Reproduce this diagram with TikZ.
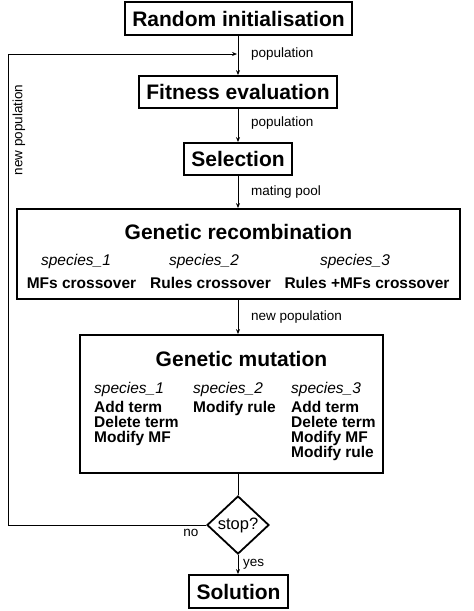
\documentclass[tikz,border=0pt]{standalone}
\usepackage{fontspec}
\setmainfont{Liberation Sans}
\usetikzlibrary{arrows.meta,positioning,shapes.geometric}

\begin{document}
\begin{tikzpicture}[x=1pt,y=-1pt,
  stage/.style={draw,line width=1.8pt,inner sep=0pt,
    font=\fontsize{21}{24}\bfseries\selectfont},
  panel/.style={draw,line width=1.8pt,inner sep=0pt},
  panelhead/.style={font=\fontsize{21}{24}\bfseries\selectfont},
  species/.style={font=\fontsize{15.5}{17}\itshape\selectfont},
  oper/.style={font=\fontsize{15.5}{15}\bfseries\selectfont,align=left,inner sep=0pt},
  decision/.style={diamond,draw,line width=1.8pt,minimum width=62pt,minimum height=58pt,
    inner sep=0pt,font=\fontsize{16.5}{18}\selectfont},
  lbl/.style={font=\fontsize{13.5}{15}\selectfont,inner sep=0pt},
  flow/.style={-{Stealth[length=5pt,width=4pt]},line width=0.7pt}]
\useasboundingbox (0,0) rectangle (474,611);

\node[stage,minimum width=227pt,minimum height=33pt] (init) at (238.5,18.5) {Random initialisation};
\node[stage,minimum width=198pt,minimum height=32pt] (fitness) at (238,92) {Fitness evaluation};
\node[stage,minimum width=108pt,minimum height=32pt] (select) at (238,159) {Selection};

% recombination panel
\node[panel,minimum width=443pt,minimum height=90pt] (recomb) at (238.5,254) {};
\node[panelhead] (recombtitle) at (238.5,232) {Genetic recombination};
\node[species] (rsp1) at (76,261) {species\_1};
\node[species] (rsp2) at (204,261) {species\_2};
\node[species] (rsp3) at (355,261) {species\_3};
\node[oper] (rop1) at (81.5,283) {MFs crossover};
\node[oper] (rop2) at (210.5,283) {Rules crossover};
\node[oper] (rop3) at (367,283) {Rules +MFs crossover};

% mutation panel
\node[panel,minimum width=303pt,minimum height=138pt] (mutate) at (231.5,404) {};
\node[panelhead] (mutatetitle) at (241.5,359) {Genetic mutation};
\node[species,anchor=west,inner sep=0pt] (msp1) at (94,389) {species\_1};
\node[species,anchor=west,inner sep=0pt] (msp2) at (193,389) {species\_2};
\node[species,anchor=west,inner sep=0pt] (msp3) at (291,389) {species\_3};
\node[oper,anchor=north west] (mop1) at (94,401) {Add term\\Delete term\\Modify MF};
\node[oper,anchor=north west] (mop2) at (193,401) {Modify rule};
\node[oper,anchor=north west] (mop3) at (291,401) {Add term\\Delete term\\Modify MF\\Modify rule};

\node[decision] (stop) at (238,525) {stop?};
\node[stage,minimum width=99pt,minimum height=33pt] (solution) at (238.5,591.5) {Solution};

\coordinate (join) at (238,54);
\coordinate (loopbot) at (8,525);
\coordinate (looptop) at (8,54);

\draw[flow] (init.south -| join) -- (fitness.north -| join);
\draw[flow] (fitness.south -| join) -- (select.north -| join);
\draw[flow] (select.south -| join) -- (recomb.north -| join);
\draw[flow] (recomb.south -| join) -- (mutate.north -| join);
\draw[line width=0.7pt] (mutate.south -| join) -- (stop.north);
\draw[flow] (stop.south) -- (solution.north -| join);
\draw[flow] (stop.west) -- (loopbot) -- (looptop) -- ([xshift=-1pt]join);

\node[lbl,anchor=west] (lpop1) at (251,54) {population};
\node[lbl,anchor=west] (lpop2) at (251,123) {population};
\node[lbl,anchor=west] (lpool) at (251,192) {mating pool};
\node[lbl,anchor=west] (lnewpop) at (251,317) {new population};
\node[lbl,rotate=90] (lloop) at (19,130) {new population};
\node[lbl] (lno) at (191,533) {no};
\node[lbl,anchor=west] (lyes) at (243,564) {yes};
\end{tikzpicture}
\end{document}
